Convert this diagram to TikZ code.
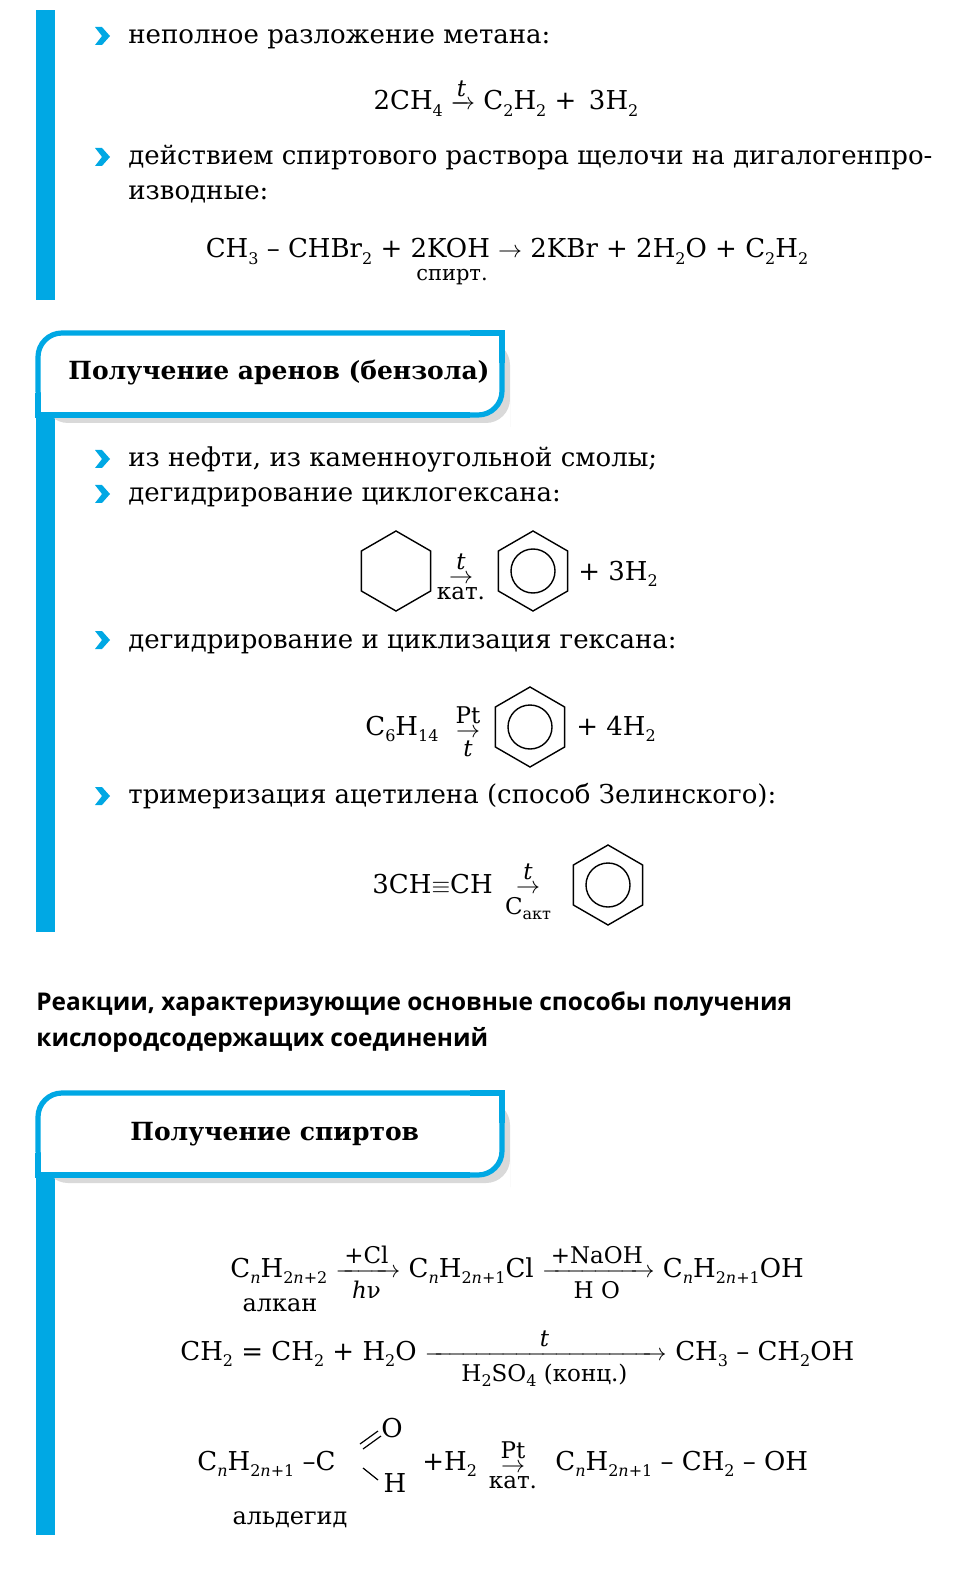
\documentclass[tikz,border=0pt]{standalone}
\usepackage{amsmath}
\usepackage{fontspec}
\setmainfont{DejaVu Serif}
\newfontfamily\headsans{Open Sans}
\usetikzlibrary{shapes.geometric}
\definecolor{barblue}{RGB}{0,168,228}
\newcommand\sub[1]{\raisebox{-0.45ex}{\fontsize{8}{9}\selectfont #1}}
\newcommand\ital[1]{\textit{#1}}
\newcommand\lbl[1]{\text{\fontsize{11.5}{13}\selectfont #1}}
\tikzset{
  txt/.style={anchor=base west, inner sep=0pt, font=\fontsize{13}{15}\selectfont},
  formula/.style={anchor=base, inner sep=0pt, font=\fontsize{13}{15}\selectfont},
  small/.style={anchor=base, inner sep=0pt, font=\fontsize{10.5}{12}\selectfont},
  hexa/.style={regular polygon, regular polygon sides=6, shape border rotate=30, draw, line width=0.7pt, minimum size=40pt, inner sep=0pt},
  headbox/.style={draw=barblue, line width=2.6pt, fill=white, rounded corners=12pt},
}
\begin{document}
\begin{tikzpicture}[x=0.5pt, y=-0.5pt]
\useasboundingbox (0,0) rectangle (963,1582);

% blue bars
\fill[barblue] (36,10) rectangle (55,300);
\fill[barblue] (36,415) rectangle (55,932);
\fill[barblue] (36,1175) rectangle (55,1535);

% header boxes with shadow
\foreach \y in {333,1093}
{
  \fill[black!25, opacity=.6, rounded corners=12pt] (44,\y+90) -- (44,\y+28) -- (44,\y+8) -- (510,\y+8) -- (510,\y+70) -- (510,\y+90) -- cycle;
  \draw[headbox] (38,\y+82) -- (38,\y) -- (502,\y) -- (502,\y+82) -- cycle;
  \draw[headbox, rounded corners=0pt] (38,\y+60) -- (38,\y+82) -- (470,\y+82);
  \draw[headbox, rounded corners=0pt] (470,\y) -- (502,\y) -- (502,\y+30);
}
\node[txt, font=\fontsize{12.5}{15}\bfseries] (h1) at (68,380) {Получение аренов (бензола)};
\node[txt, font=\fontsize{12.5}{15}\bfseries] (h2) at (130,1140) {Получение спиртов};

% bullets
\foreach \y in {36,157,459,494,640,796}
  \fill[barblue] (95,\y-9) -- (102,\y-9) -- (110,\y) -- (102,\y+9) -- (95,\y+9) -- (102,\y) -- cycle;

% text lines
\node[txt] (t1) at (128,44) {неполное разложение метана:};
\node[formula] (f1) at (506,110) {2CH\sub4 \(\xrightarrow{\lbl{\ital t}}\) C\sub2H\sub2 +\, 3H\sub2};
\node[txt] (t2) at (128,165) {действием спиртового раствора щелочи на дигалогенпро-};
\node[txt] (t3) at (128,200) {изводные:};
\node[formula] (f2) at (507,258) {CH\sub3 – CHBr\sub2 + 2KOH \(\rightarrow\) 2KBr + 2H\sub2O + C\sub2H\sub2};
\node[small] (sp) at (452,281) {спирт.};

\node[txt] (t4) at (128,467) {из нефти, из каменноугольной смолы;};
\node[txt] (t5) at (128,502) {дегидрирование циклогексана:};
\node[hexa] (cyc) at (396,571) {};
\node[formula] (a1) at (461,583) {\(\overset{\lbl{\ital t}}{\underset{\lbl{кат.}}{\rightarrow}}\)};
\node[hexa] (bz1) at (533,571) {};
\draw[line width=0.7pt] (bz1.center) circle (11pt);
\node[txt] (p1) at (578,580) {+ 3H\sub2};

\node[txt] (t6) at (128,648) {дегидрирование и циклизация гексана:};
\node[txt] (hex) at (365,735) {C\sub6H\sub{14}};
\node[formula] (a2) at (468,737) {\(\overset{\lbl{Pt}}{\underset{\lbl{\ital t}}{\rightarrow}}\)};
\node[hexa] (bz2) at (530,727) {};
\draw[line width=0.7pt] (bz2.center) circle (11pt);
\node[txt] (p2) at (576,735) {+ 4H\sub2};

\node[txt] (t7) at (128,803) {тримеризация ацетилена (способ Зелинского):};
\node[txt] (ac) at (372,893) {3CH\(\equiv\)CH};
\node[formula] (a3) at (528,893) {\(\overset{\lbl{\ital t}}{\underset{\lbl{C\sub{акт}}}{\rightarrow}}\)};
\node[hexa] (bz3) at (608,885) {};
\draw[line width=0.7pt] (bz3.center) circle (11pt);

% sans heading
\node[txt, font=\headsans\fontsize{12.2}{15}\selectfont\bfseries] (sh1) at (36,1010) {Реакции, характеризующие основные способы получения};
\node[txt, font=\headsans\fontsize{12.2}{15}\selectfont\bfseries] (sh2) at (36,1046) {кислородсодержащих соединений};

% alcohols
\node[txt] (r1) at (230,1277) {C\sub{\ital n}H\sub{2\ital n+2} \(\xrightarrow[\lbl{\ital{h}ν}]{\,\lbl{+Cl}\,}\) C\sub{\ital n}H\sub{2\ital n+1}Cl \(\xrightarrow[\lbl{H O}]{\,\lbl{+NaOH}\,}\) C\sub{\ital n}H\sub{2\ital n+1}OH};
\node[small, font=\fontsize{12}{14}\selectfont] (alk) at (280,1311) {алкан};
\node[txt] (r2) at (180,1360) {CH\sub2 = CH\sub2 + H\sub2O \(\xrightarrow[\lbl{H\sub2SO\sub4 (конц.)}]{\hspace*{4.2em}\lbl{\ital t}\hspace*{4.2em}}\) CH\sub3 – CH\sub2OH};
\node[txt] (ald) at (197,1470) {C\sub{\ital n}H\sub{2\ital n+1} –C};
\node[formula] (ox) at (392,1437) {O};
\node[formula] (hy) at (395,1492) {H};
\draw[line width=0.6pt] (360,1444) -- (378,1431) (363,1449) -- (381,1436);
\draw[line width=0.6pt] (363,1468) -- (378,1480);
\node[txt] (h2r) at (422,1470) {+H\sub2};
\node[formula] (a4) at (513,1472) {\(\overset{\lbl{Pt}}{\underset{\lbl{кат.}}{\rightarrow}}\)};
\node[txt] (pr) at (555,1470) {C\sub{\ital n}H\sub{2\ital n+1} – CH\sub2 – OH};
\node[small, font=\fontsize{12}{14}\selectfont] (aldl) at (290,1524) {альдегид};
\end{tikzpicture}
\end{document}
